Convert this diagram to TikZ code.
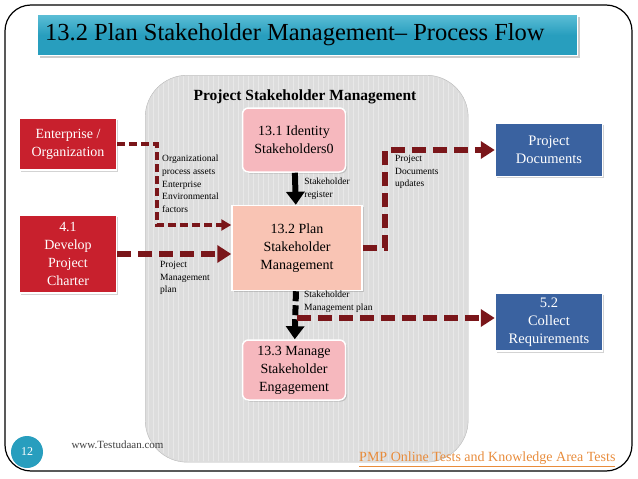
\documentclass[tikz,border=0pt]{standalone}
\usepackage{fontspec}
\setmainfont{Liberation Serif}
\usetikzlibrary{arrows.meta,shadows}
\definecolor{flowred}{RGB}{122,22,26}
\definecolor{orgred}{RGB}{200,32,45}
\definecolor{outblue}{RGB}{58,98,160}
\definecolor{idpink}{RGB}{246,184,190}
\definecolor{plansalmon}{RGB}{249,196,180}
\definecolor{titleteal}{RGB}{40,158,190}
\definecolor{titlelight}{RGB}{92,190,214}
\definecolor{linkorange}{RGB}{232,140,60}
\begin{document}
\begin{tikzpicture}[x=1pt,y=-1pt,
    box/.style={draw=white,line width=1.5pt,align=center,
        drop shadow={opacity=0.35,shadow xshift=1.5pt,shadow yshift=-1.5pt},
        font=\fontsize{14}{18}\selectfont},
    red box/.style={box,fill=orgred,text=white,minimum width=97pt},
    blue box/.style={box,fill=outblue,text=white,minimum width=107pt,font=\fontsize{14.5}{18}\selectfont},
    step box/.style={box,rounded corners=6pt,fill=idpink,minimum width=103pt},
    note/.style={align=left,font=\fontsize{9.5}{12.7}\selectfont,inner sep=0pt},
    thick flow/.style={draw=flowred,line width=6pt,dash pattern=on 14pt off 7pt,
        -{Triangle[length=14pt,width=17pt,fill=flowred]}},
    thin flow/.style={draw=flowred,line width=3.5pt,dash pattern=on 8pt off 4pt,
        -{Triangle[length=10pt,width=11pt,fill=flowred]}},
    main flow/.style={draw=black,line width=6pt,-{Triangle[length=13pt,width=18pt]}}]
    \useasboundingbox (0,0) rectangle (638,479);

    % slide frame and title
    \draw[line width=1.2pt,rounded corners=26pt] (5,5) rectangle (632,471);
    \node[draw=white,line width=1pt,top color=titlelight,bottom color=titleteal,middle color=titleteal,
        drop shadow={opacity=0.4,shadow xshift=2pt,shadow yshift=-2pt},
        minimum width=540pt,minimum height=41pt,anchor=north west] at (37,14) (title) {};
    \node[anchor=west,inner sep=0pt,font=\fontsize{24.5}{28}\selectfont] at (45,35) (titletext)
        {13.2 Plan Stakeholder Management– Process Flow};

    % process group
    \node[draw=gray!55,fill=gray!27,rounded corners=42pt,minimum width=323pt,minimum height=387pt,
        anchor=north west] at (145,75) (group) {};
    \begin{scope}
        \clip[rounded corners=42pt] (146,76) rectangle (467,461);
        \foreach \x in {148,153,...,468}
            \draw[gray!18,line width=0.6pt] (\x,75) -- (\x,462);
    \end{scope}
    \node[font=\fontsize{15.5}{18}\bfseries] at (305,97) (grouptitle) {Project Stakeholder Management};

    \node[step box,minimum height=64pt] at (294,140) (id) {13.1 Identity\\Stakeholders0};
    \node[box,fill=plansalmon,minimum width=130pt,minimum height=85pt] at (297,248) (plan)
        {13.2 Plan\\Stakeholder\\Management};
    \node[step box,minimum height=60pt] at (294,370) (manage) {13.3 Manage\\Stakeholder\\Engagement};

    \node[red box,minimum height=52pt] at (68,144) (ent) {Enterprise /\\Organization};
    \node[red box,minimum height=78pt] at (68,254) (dev) {4.1\\Develop\\Project\\Charter};
    \node[blue box,minimum height=53pt] at (549,150) (docs) {Project\\Documents};
    \node[blue box,minimum height=58pt] at (549,322) (req) {5.2\\Collect\\Requirements};

    \coordinate (c1) at (157,225);
    \coordinate (c2) at (385,150);
    \coordinate (tap) at (297,318);

    \path[main flow] (id) edge node [right,note,xshift=6pt] {Stakeholder\\register} (plan);
    \path[main flow,dash pattern=on 10pt off 4pt] (plan) edge (manage);
    \node[note,anchor=north west] at (304,291) (mplan) {Stakeholder\\Management plan};

    \draw[thin flow] (ent.east) -| (c1) -- (c1 -| plan.west);
    \draw[thick flow] (dev.east) -- (dev.east -| plan.west);
    \draw[thick flow] (plan.east) -| (c2) -- (docs.west);
    \draw[thick flow] (tap) -- (tap -| req.west);

    \node[note,anchor=north west] at (162,155) (opa)
        {Organizational\\process assets\\Enterprise\\Environmental\\factors};
    \node[note,anchor=north west] at (160,261) (pmp) {Project\\Management\\plan};
    \node[note,anchor=north west] at (395,155) (pdu) {Project\\Documents\\updates};

    % footer
    \node[circle,fill=titleteal,text=white,minimum size=32pt,inner sep=0pt,
        font=\fontsize{12}{14}\selectfont] at (27,452) (page) {12};
    \node[anchor=west,text=black!75,font=\fontsize{11}{13}\selectfont] at (68,445) (web) {www.Testudaan.com};
    \node[anchor=east,text=linkorange,font=\fontsize{14}{16}\selectfont] at (619,459) (link)
        {\underline{PMP Online Tests and Knowledge Area Tests}};
\end{tikzpicture}
\end{document}
